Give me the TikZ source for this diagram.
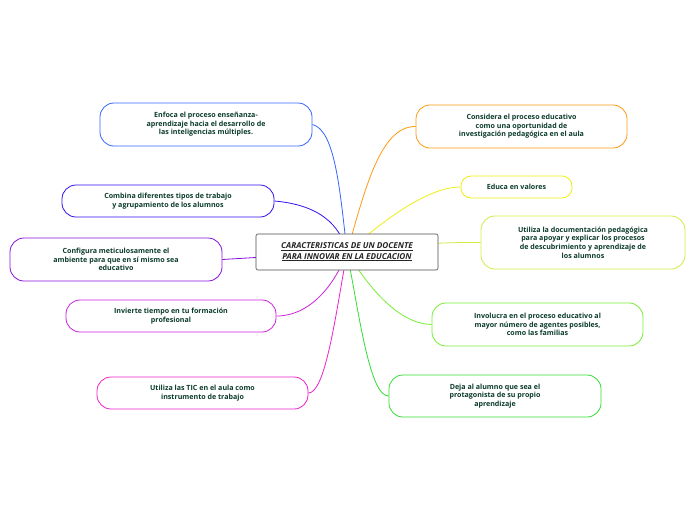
\documentclass[tikz,border=0pt]{standalone}
\usepackage{fontspec}
\setmainfont{Open Sans}
\begin{document}
\begin{tikzpicture}[x=1pt,y=-1pt,
  leaf/.style={draw,rounded corners=14pt,line width=0.8pt,fill=white,text=txt,font=\fontsize{7.1}{8.6}\selectfont\bfseries,align=center,inner sep=0pt},
  br/.style={line width=0.8pt}]
\definecolor{txt}{HTML}{0B3B2C}
\definecolor{cb1}{HTML}{3366FF}
\definecolor{cb2}{HTML}{3311EE}
\definecolor{cb3}{HTML}{8811DD}
\definecolor{cb4}{HTML}{CC22DD}
\definecolor{cb5}{HTML}{EE22CC}
\definecolor{cr1}{HTML}{FF9911}
\definecolor{cr2}{HTML}{EEEE11}
\definecolor{cr3}{HTML}{CCEE44}
\definecolor{cr4}{HTML}{77EE33}
\definecolor{cr5}{HTML}{33DD33}
\useasboundingbox[fill=white] (0,0) rectangle (696,520);
\coordinate (o) at (347,252);
\node[leaf,draw=cb1,minimum width=212pt,minimum height=43pt] (n1) at (206,124.5) {Enfoca el proceso enseñanza-\\aprendizaje hacia el desarrollo de\\las inteligencias múltiples.};
\node[leaf,draw=cb2,minimum width=212pt,minimum height=32pt] (n2) at (168,201) {Combina diferentes tipos de trabajo\\y agrupamiento de los alumnos};
\node[leaf,draw=cb3,minimum width=212pt,minimum height=43pt] (n3) at (116,259.5) {Configura meticulosamente el\\ambiente para que en sí mismo sea\\educativo};
\node[leaf,draw=cb4,minimum width=210pt,minimum height=32pt] (n4) at (171,316) {Invierte tiempo en tu formación\\profesional};
\node[leaf,draw=cb5,minimum width=211pt,minimum height=32pt] (n5) at (202.5,393) {Utiliza las TIC en el aula como\\instrumento de trabajo};
\node[leaf,draw=cr1,minimum width=211pt,minimum height=43pt] (m1) at (521.5,126.5) {Considera el proceso educativo\\como una oportunidad de\\investigación pedagógica en el aula};
\node[leaf,draw=cr2,minimum width=111pt,minimum height=22pt,rounded corners=10pt] (m2) at (516.5,187) {Educa en valores};
\node[leaf,draw=cr3,minimum width=204pt,minimum height=53pt] (m3) at (583,242.5) {Utiliza la documentación pedagógica\\para apoyar y explicar los procesos\\de descubrimiento y aprendizaje de\\los alumnos};
\node[leaf,draw=cr4,minimum width=211pt,minimum height=43pt] (m4) at (537.5,324.5) {Involucra en el proceso educativo al\\mayor número de agentes posibles,\\como las familias};
\node[leaf,draw=cr5,minimum width=212pt,minimum height=42pt] (m5) at (495,396) {Deja al alumno que sea el\\protagonista de su propio\\aprendizaje};
\draw[br,cb1] (o) .. controls (340,190) and (335,130) .. (n1.east);
\draw[br,cb2] (o) .. controls (340,225) and (320,205) .. (n2.east);
\draw[br,cb3] (o) -- (n3.east);
\draw[br,cb4] (o) .. controls (335,285) and (310,316) .. (n4.east);
\draw[br,cb5] (o) .. controls (335,320) and (325,393) .. (n5.east);
\draw[br,cr1] (o) .. controls (365,190) and (380,126) .. (m1.west);
\draw[br,cr2] (o) .. controls (390,215) and (430,187) .. (m2.west);
\draw[br,cr3] (o) .. controls (400,245) and (440,242) .. (m3.west);
\draw[br,cr4] (o) .. controls (370,290) and (400,324) .. (m4.west);
\draw[br,cr5] (o) .. controls (360,320) and (370,396) .. (m5.west);
\node[draw=black!70,fill=white,rounded corners=2pt,line width=0.6pt,minimum width=182pt,minimum height=36pt,align=center,font=\fontsize{8.2}{10.5}\selectfont\bfseries\itshape,text=black!85] (c) at (347,252) {\underline{CARACTERISTICAS DE UN DOCENTE}\\\underline{PARA INNOVAR EN LA EDUCACION}};
\end{tikzpicture}
\end{document}
